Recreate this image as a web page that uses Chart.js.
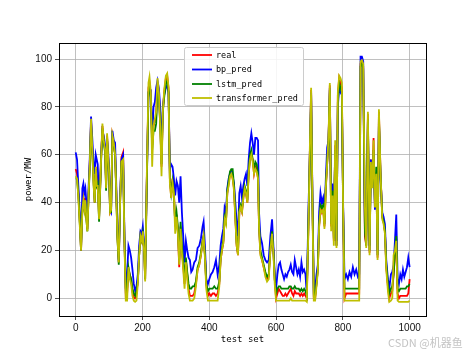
<!DOCTYPE html>
<html>
<head>
<meta charset="utf-8">
<script src="https://cdn.jsdelivr.net/npm/chart.js@4.4.1/dist/chart.umd.min.js"></script>
<style>
html,body{margin:0;padding:0;background:#fff;}
#wrap{width:474px;height:355px;position:relative;}
</style>
</head>
<body>
<div id="wrap"><canvas id="c" width="474" height="355"></canvas></div>
<script>
const xs = [0,4,8,12,16,20,23,26,29,32,35,39,42,46,50,54,57,60,63,66,70,73,76,80,84,88,91,94,97,100,103,106,110,114,118,121,125,129,133,137,142,146,150,154,158,162,166,170,174,178,182,186,190,194,198,201,205,208,213,218,221,225,229,233,237,241,245,249,253,257,261,265,270,274,278,282,286,290,294,298,302,306,310,314,318,322,326,330,334,338,342,346,350,355,360,365,370,375,380,383,387,391,396,400,405,410,415,420,425,430,434,438,442,446,450,454,458,462,466,470,474,478,482,486,490,494,498,502,506,510,514,518,522,526,530,534,538,542,546,549,553,558,563,568,573,578,583,588,592,596,600,604,608,612,616,620,624,628,632,636,640,644,648,652,656,660,664,668,672,676,680,684,688,692,697,701,705,709,713,717,721,725,729,733,737,741,745,749,753,757,761,765,769,773,777,781,785,789,793,797,801,805,810,815,820,825,830,835,840,845,849,853,857,861,866,870,875,880,884,888,892,896,900,904,908,913,918,922,926,930,935,939,944,948,952,956,960,964,968,972,976,980,984,988,992,996,1000];

const realVals = [54,52,44,33,20,38,42,38,42,34,29,45,56,74,62,48,40,55,48,50,33,45,58,72,66,62,46,68,60,52,36,37,68,65,60,47,26,15,40,59,61,24,1,2,12,10,8,3,0,0,2,7,18,26,24,28,20,8,50,88,90,85,64,72,74,76,90,86,74,55,78,86,92,93,88,50,42,50,45,30,35,28,13,30,20,14,6,16,10,4,1,1,1,2,6,12,14,18,24,26,18,6,1,2,1,2,2,1,2,6,16,20,23,33,32,44,48,52,53,50,46,34,22,18,36,38,36,42,46,44,40,52,58,60,58,52,55,54,50,30,19,16,13,10,8,9,20,27,20,8,0,2,4,3,2,1,1,2,1,2,3,4,2,1,3,2,2,2,1,2,1,2,1,0,30,60,87,40,0,0,6,12,30,38,36,38,30,46,56,66,89,30,44,24,64,22,85,92,90,88,36,0,2,2,2,2,2,2,2,2,2,98,99,97,26,22,77,19,58,47,67,38,52,17,78,52,34,32,28,13,5,0,2,3,10,18,25,2,0,1,1,1,1,1,1,2,8];

const bpVals = [61,58,47,36,22,46,48,44,46,40,32,48,58,76,66,55,52,60,58,56,38,47,60,70,68,64,48,66,62,54,37,36,70,66,65,50,28,16,42,58,60,26,4,10,22,20,17,12,6,3,5,10,22,28,27,30,22,12,50,86,88,87,66,80,82,88,91,88,80,60,80,85,88,89,86,54,56,55,50,43,49,47,40,51,36,26,15,24,20,17,16,11,12,15,16,21,22,25,30,32,22,8,6,8,10,11,13,16,10,14,22,26,29,38,36,46,50,52,53,51,48,40,32,26,44,47,42,47,50,52,47,58,65,69,65,60,67,67,66,36,26,23,18,16,15,16,26,33,22,10,4,10,14,15,12,10,8,10,9,11,12,14,11,10,16,13,10,12,9,15,11,12,10,2,37,60,86,42,3,4,10,14,36,44,40,42,34,50,63,66,88,32,48,30,62,24,80,88,86,85,38,8,10,8,11,9,13,10,12,9,10,101,101,99,30,24,74,22,58,48,60,37,50,20,74,50,36,34,31,16,8,4,10,11,14,24,35,8,6,10,8,12,9,11,13,17,13];

const lstmVals = [50,50,43,32,20,38,40,37,40,33,28,44,54,73,60,47,40,54,47,48,32,44,57,71,65,61,45,67,59,51,36,36,67,64,60,46,25,14,40,57,58,24,3,4,13,10,8,4,2,1,3,7,18,26,24,27,20,8,48,86,88,84,62,70,70,73,88,84,73,56,78,84,90,91,86,50,44,49,44,31,36,30,16,32,22,15,8,17,11,6,4,4,5,5,7,13,15,19,24,26,18,6,3,4,4,4,5,4,4,7,17,21,24,34,32,45,49,53,54,54,47,35,23,19,37,39,37,43,47,45,41,53,60,62,58,54,57,56,52,31,20,17,14,11,9,10,21,28,20,8,2,4,5,5,4,4,4,4,4,4,5,5,4,4,5,4,4,4,3,4,3,4,3,1,32,58,85,40,1,1,6,12,31,39,38,39,31,47,57,65,87,31,45,25,62,22,82,90,88,86,36,4,4,4,4,4,4,4,4,4,4,97,98,96,28,22,75,20,56,47,62,40,55,18,76,51,34,32,28,14,6,2,4,5,10,19,26,4,3,4,4,4,4,4,5,5,6];

const transformerVals = [51,50,42,31,20,37,41,37,41,33,28,45,55,75,61,46,40,55,47,47,33,45,58,73,66,62,46,69,60,52,36,37,68,65,60,47,25,15,40,57,58,23,-1,-1,13,8,6,1,-1,-1.5,-1,6,18,26,24,28,19,7,52,90,92.5,86,55,72,75,78,92,86,72,51,78,87,93,94,88,48,42,48,44,27,34,27,14,29,19,12,4,15,8,2,-1,-1,-1,0,5,12,14,18,23,26,17,4,-1,-1,-1,-1,-1,-1,-1,5,16,20,23,33,31,44,47,51,52,50,45,33,22,18,36,38,36,42,46,44,40,52,58,60,57,52,54,53,50,30,18,16,13,9,7,8,20,27,19,6,-1,-1,-1,-1,-1,-1,-1,-1,-1,-1,-1,0,-1,-1,-1,-1,-1,-1,-1,-1,-1,-1,-1,-1.5,30,62,88,38,-1,-1,5,11,30,37,36,37,29,46,56,67,90,28,43,22,66,21,86,93,92,90,35,-1,-1,-1,-1,-1,-1,-1,-1,-1,-1,99,99.5,98,38,21,78,18,57,46,66,38,52,16,79,52,33,31,27,12,3,-1.5,-1,0,18,20,24,-1,-1.5,-1.5,-1.5,-1.5,-1.5,-1.5,-1.5,-1.5,-1,4];

const seriesNames = ['real','bp_pred','lstm_pred','transformer_pred'];
const seriesColors = ['#ff0000','#0000ff','#008000','#bfbf00'];
const xTickVals = [0,200,400,600,800,1000];
const yTickVals = [0,20,40,60,80,100];

const allVals = [realVals, bpVals, lstmVals, transformerVals];
const datasets = allVals.map((vals, k) => ({
  label: seriesNames[k],
  data: xs.map((x, i) => ({x: x, y: vals[i]})),
  borderColor: seriesColors[k],
  backgroundColor: seriesColors[k],
  borderWidth: 1.8,
  pointRadius: 0,
  tension: 0,
  fill: false,
  order: 4 - k
}));

const framePlugin = {
  id: 'frame',
  afterDatasetsDraw(chart) {
    const {ctx, chartArea: a} = chart;
    ctx.save();
    ctx.strokeStyle = '#000';
    ctx.lineWidth = 1;
    ctx.strokeRect(Math.round(a.left) + 0.5, Math.round(a.top) + 0.5, Math.round(a.right - a.left), Math.round(a.bottom - a.top));
    // legend
    const bx = 184, by = 47, bw = 119, bh = 58;
    ctx.fillStyle = 'rgba(255,255,255,0.85)';
    ctx.strokeStyle = '#cccccc';
    ctx.beginPath();
    if (ctx.roundRect) ctx.roundRect(bx + 0.5, by + 0.5, bw, bh, 2); else ctx.rect(bx + 0.5, by + 0.5, bw, bh);
    ctx.fill();
    ctx.stroke();
    ctx.font = '8.5px "DejaVu Sans Mono"';
    ctx.textBaseline = 'middle';
    ctx.textAlign = 'left';
    const rows = [55, 69.5, 84, 98];
    chart.data.datasets.forEach((ds, k) => {
      const y = rows[k];
      ctx.strokeStyle = ds.borderColor;
      ctx.lineWidth = 1.8;
      ctx.beginPath();
      ctx.moveTo(192, y);
      ctx.lineTo(212, y);
      ctx.stroke();
      ctx.fillStyle = '#000';
      ctx.fillText(ds.label, 216, y + 0.5);
    });
    // watermark
    ctx.font = '11px "Noto Sans CJK SC"';
    ctx.fillStyle = '#c4c4c4';
    ctx.textBaseline = 'middle';
    ctx.fillText('CSDN @机器鱼', 388, 343);
    ctx.restore();
  }
};

new Chart(document.getElementById('c'), {
  type: 'line',
  data: { datasets: datasets },
  options: {
    responsive: false,
    animation: false,
    devicePixelRatio: 1,
    layout: { padding: { top: 43, right: 48, left: 0, bottom: 0 } },
    plugins: { legend: { display: false }, tooltip: { enabled: false } },
    scales: {
      x: {
        type: 'linear',
        min: -50,
        max: 1049,
        afterFit(s) { s.height = 39; },
        afterBuildTicks(s) { s.ticks = xTickVals.map(v => ({value: v})); },
        ticks: { color: '#111', font: { family: '"Liberation Sans", Arial, sans-serif', size: 10 }, padding: 2, maxRotation: 0, autoSkip: false, callback: v => String(v) },
        grid: { color: '#b0b0b0', lineWidth: 0.8, tickLength: 4, tickColor: '#222', drawTicks: true },
        border: { display: true, color: '#000', width: 1 },
        title: { display: true, text: 'test set', color: '#000', font: { family: '"DejaVu Sans Mono", monospace', size: 9 }, padding: { bottom: 9.6, top: 0 } }
      },
      y: {
        type: 'linear',
        min: -7.4,
        max: 106.7,
        afterFit(s) { s.width = 59; },
        afterBuildTicks(s) { s.ticks = yTickVals.map(v => ({value: v})); },
        ticks: { color: '#111', font: { family: '"Liberation Sans", Arial, sans-serif', size: 10 }, padding: 3, autoSkip: false, callback: v => String(v) },
        grid: { color: '#b0b0b0', lineWidth: 0.8, tickLength: 4, tickColor: '#222', drawTicks: true },
        border: { display: true, color: '#000', width: 1 },
        title: { display: true, text: 'power/MW', color: '#000', font: { family: '"DejaVu Sans Mono", monospace', size: 9 }, padding: { top: 23.6, bottom: 0 } }
      }
    }
  },
  plugins: [framePlugin]
});
</script>
</body>
</html>
